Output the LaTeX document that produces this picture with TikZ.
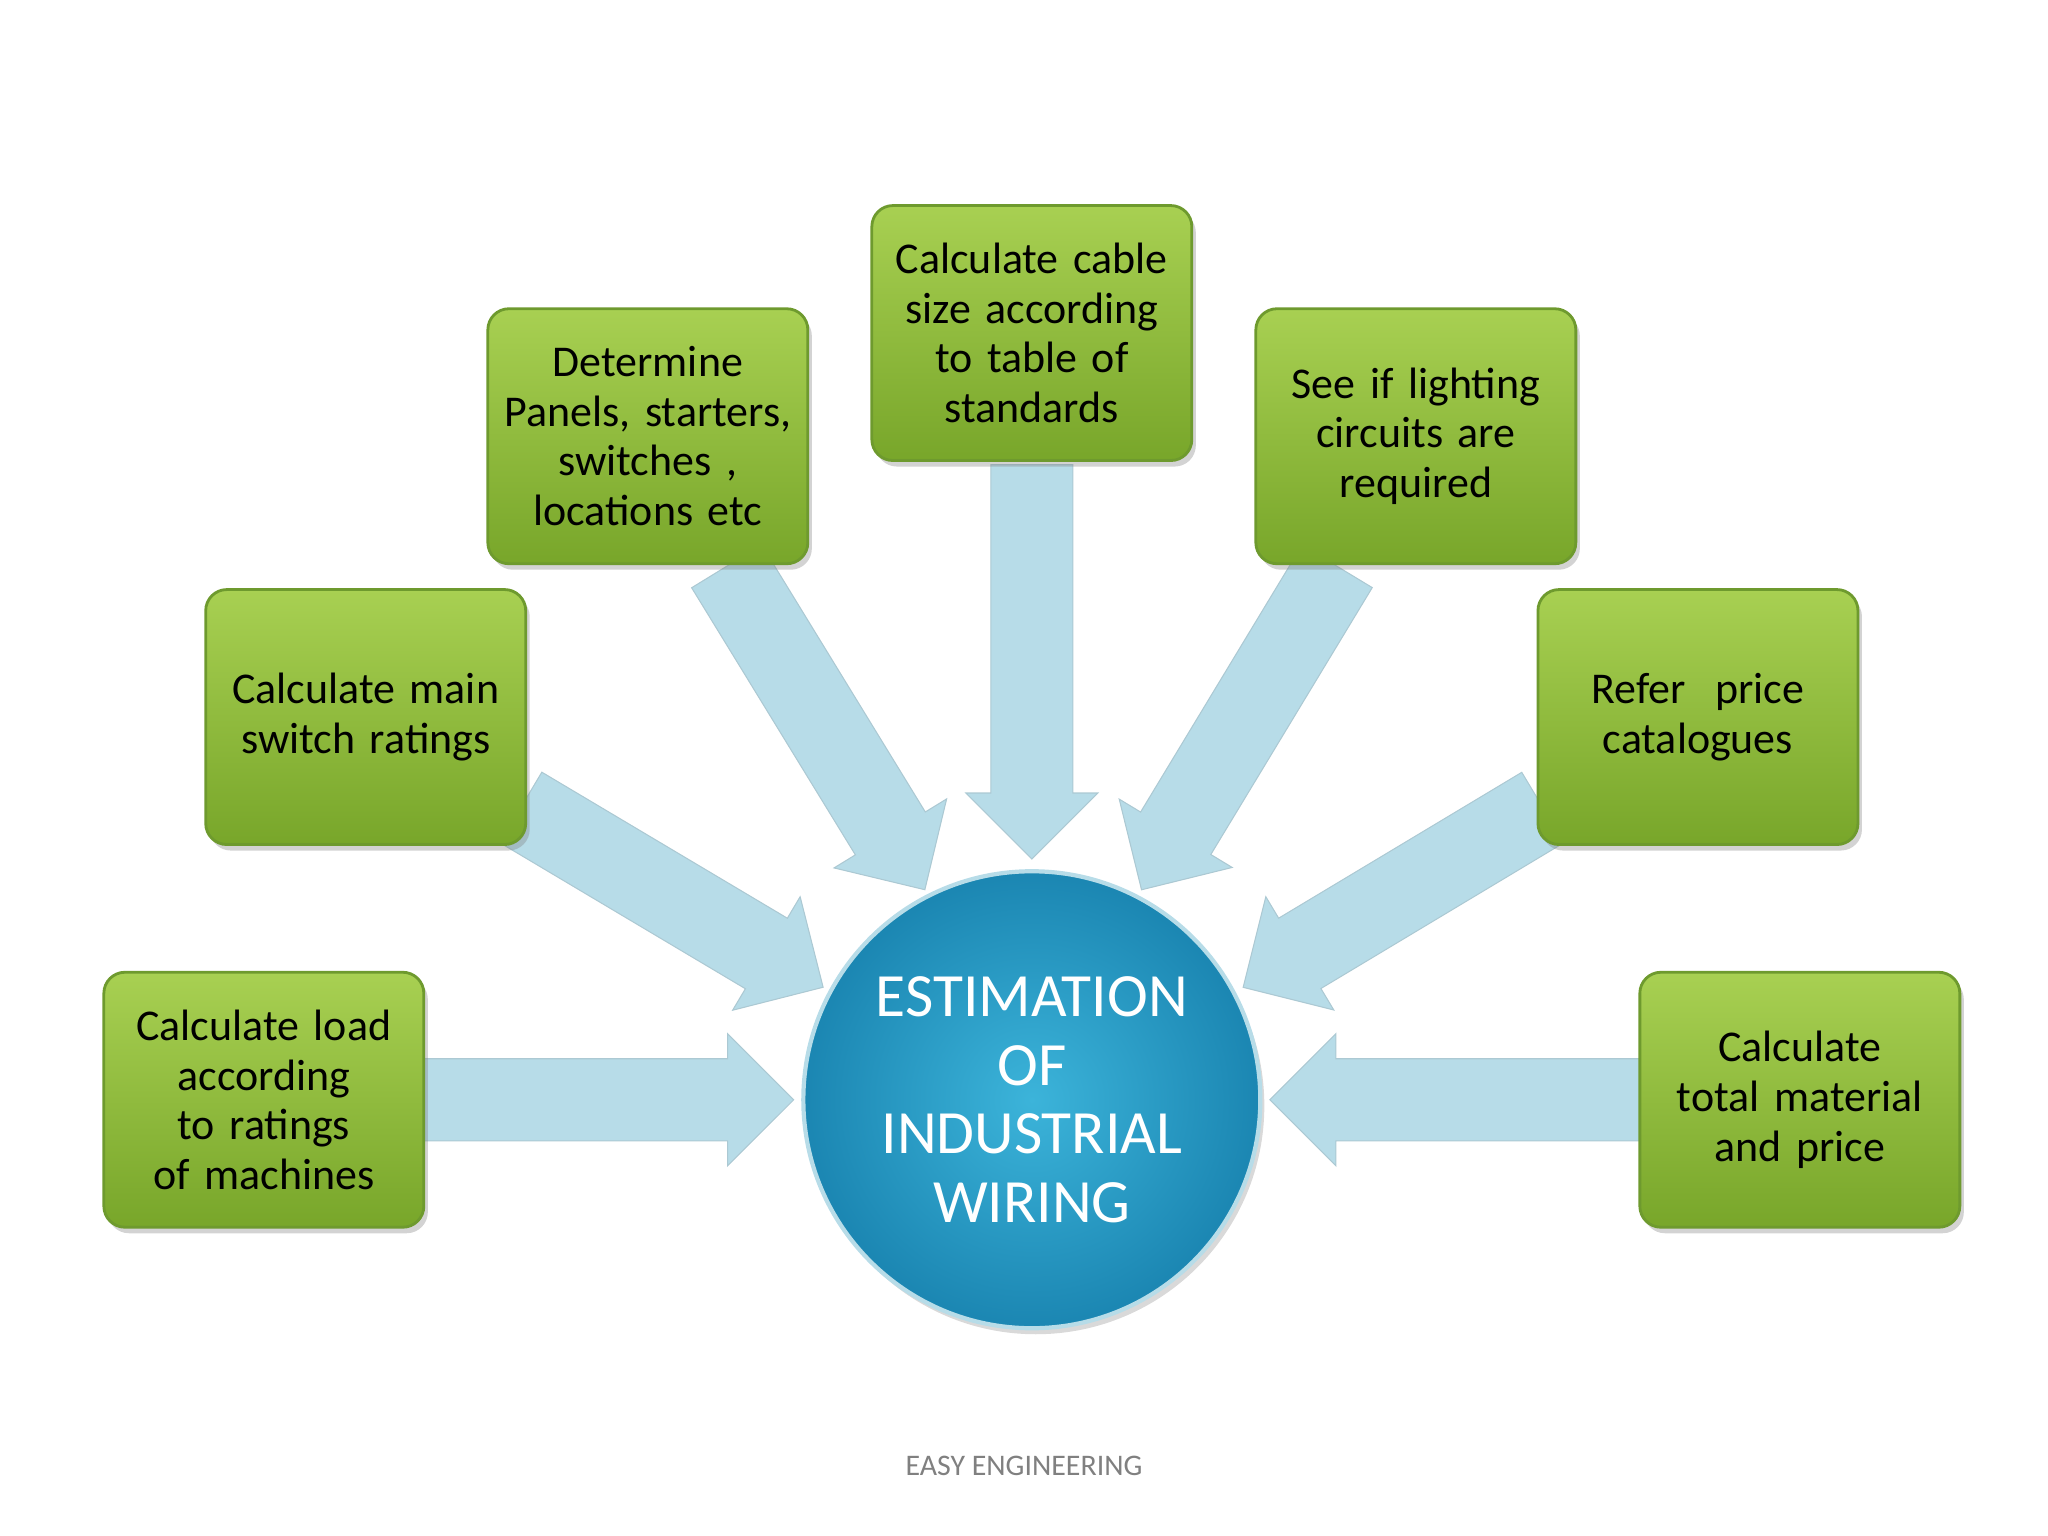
\documentclass[tikz,border=0pt]{standalone}
\usepackage{fontspec}
\setmainfont{Carlito}
\usetikzlibrary{shapes.arrows,calc,shadows}
\definecolor{boxtop}{HTML}{A8D052}
\definecolor{boxbot}{HTML}{78A62A}
\definecolor{boxline}{HTML}{6E9A2E}
\definecolor{ballin}{HTML}{3CB4DA}
\definecolor{ballout}{HTML}{1B86B2}
\definecolor{arrowfill}{HTML}{B7DCE8}
\tikzset{
  task/.style={rectangle, rounded corners=6pt, draw=boxline, line width=0.8pt,
    top color=boxtop, bottom color=boxbot, minimum width=3.2cm, minimum height=2.55cm,
    text width=3.16cm, inner xsep=0.02cm, align=center, font=\fontsize{12.5}{14.1}\selectfont,
    drop shadow={opacity=0.35, shadow xshift=0.04cm, shadow yshift=-0.06cm}},
  hub/.style={circle, draw=arrowfill, line width=1.2pt, inner color=ballin, outer color=ballout,
    minimum size=4.57cm, align=center, text=white, font=\fontsize{17.5}{19.5}\selectfont,
    drop shadow={opacity=0.3, shadow xshift=0.04cm, shadow yshift=-0.06cm}},
  fatarrow/.style={single arrow, fill=arrowfill, draw=arrowfill!80!gray, line width=0.3pt,
    inner xsep=0pt, inner ysep=0.405cm, minimum width=1.3cm, single arrow head extend=0.25cm}
}
\begin{document}
\begin{tikzpicture}[x=0.01306cm,y=-0.01306cm]
\useasboundingbox (0,0) rectangle (1568,1176);

% arrow ends
\coordinate (t1) at (300,842);   \coordinate (h1) at (592,842);
\coordinate (t2) at (385,610);   \coordinate (h2) at (617,748);
\coordinate (t3) at (548,420);   \coordinate (h3) at (700,668);
\coordinate (t4) at (790,340);   \coordinate (h4) at (790,642);
\coordinate (t5) at (1032,420);  \coordinate (h5) at (882,668);
\coordinate (t6) at (1195,610);  \coordinate (h6) at (965,748);
\coordinate (t7) at (1280,842);  \coordinate (h7) at (988,842);

% block arrows
\foreach \i in {1,...,7}
  \path let \p1=($(h\i)-(t\i)$), \n1={atan2(\y1,\x1)}, \n2={veclen(\x1,\y1)} in
    node[fatarrow, minimum height=\n2, rotate=\n1] at ($(t\i)!0.5!(h\i)$) {};

\node[task] (load)     at (202,842)  {Calculate load according to ratings of machines};
\node[task] (mainsw)   at (280,549)  {Calculate main switch ratings};
\node[task] (panels)   at (496,334)  {Determine Panels, starters, switches , locations etc};
\node[task] (cable)    at (790,255)  {Calculate cable size according to table of standards};
\node[task] (lighting) at (1084,334) {See if lighting circuits are required};
\node[task] (price)    at (1300,549) {Refer\ \ price catalogues};
\node[task] (total)    at (1378,842) {Calculate total material and price};

\node[hub] (est) at (790,842) {ESTIMATION\\OF\\INDUSTRIAL\\WIRING};

\node[text=gray, font=\fontsize{8.5}{10}\selectfont] (foot) at (784,1122) {EASY ENGINEERING};
\end{tikzpicture}
\end{document}
